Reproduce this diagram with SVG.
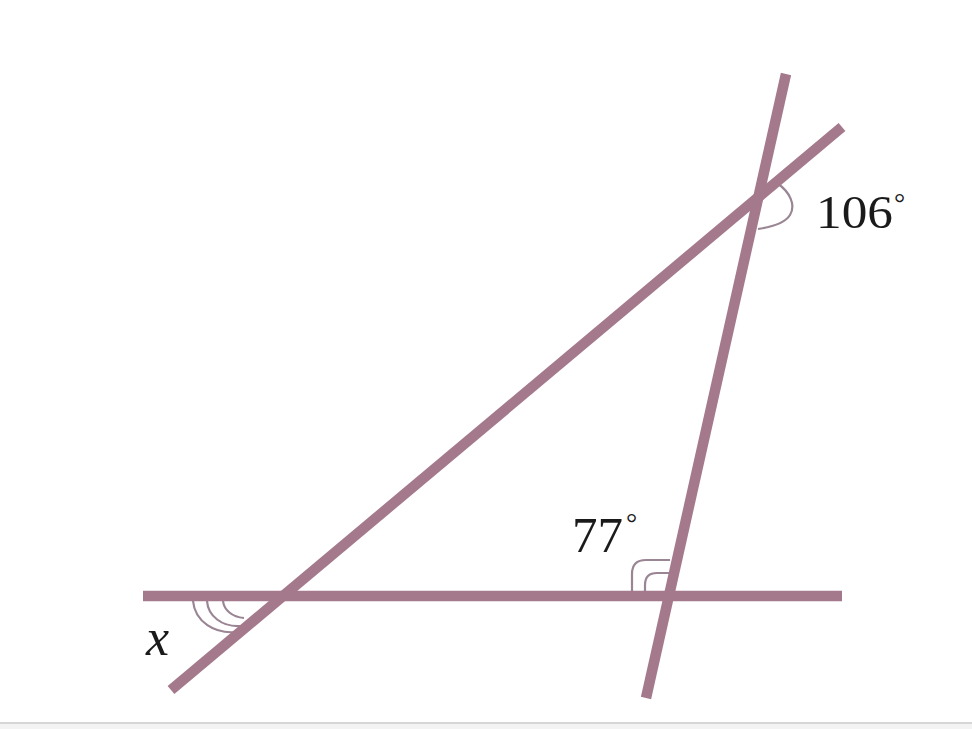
<svg xmlns="http://www.w3.org/2000/svg" width="972" height="729" viewBox="0 0 972 729">
<style>
.ln{stroke:#a5798c;stroke-width:10.5;fill:none;stroke-linecap:butt}
.mk{stroke:#9a8595;stroke-width:2.2;fill:none}
.t{font-family:"Liberation Serif",serif;fill:#1a1a1a}
</style>
<rect width="972" height="729" fill="#ffffff"/>
<rect x="0" y="722" width="972" height="2" fill="#d6d6d6"/>
<rect x="0" y="724" width="972" height="5" fill="#f3f3f3"/>
<g id="angle-marks">
<path class="mk" d="M777,183 C790,192 796,205 790,215 C785,223 772,227 758,229"/>
<path class="mk" d="M632,596 L632,574 Q632,560 646,560 L670,560"/>
<path class="mk" d="M645,596 L645,585 Q645,573 657,573 L672,573"/>
<path class="mk" d="M193,601 C195,622 215,634 236,632"/>
<path class="mk" d="M207,601 C208,616 222,627 240,626"/>
<path class="mk" d="M223,601 C224,610 232,617 244,618"/>
</g>
<g id="connectors">
<line class="ln" x1="143" y1="596" x2="842" y2="596"/>
<line class="ln" x1="171" y1="690" x2="842" y2="127"/>
<line class="ln" x1="786" y1="74" x2="646" y2="698"/>
</g>
<g id="label-106"><text class="t" x="816" y="228" font-size="47" textLength="77" lengthAdjust="spacingAndGlyphs">106</text><text class="t" x="894" y="212" font-size="28">°</text></g>
<g id="label-77"><text class="t" x="572" y="552" font-size="50" textLength="51" lengthAdjust="spacingAndGlyphs">77</text><text class="t" x="626" y="532" font-size="28">°</text></g>
<g id="label-x"><text class="t" x="146" y="655" font-size="52" font-style="italic">x</text></g>
</svg>
